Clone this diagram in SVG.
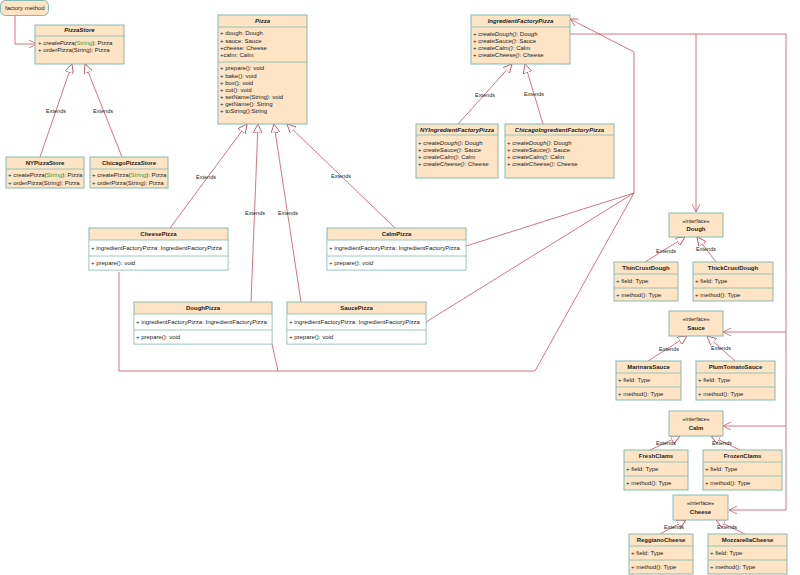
<svg xmlns="http://www.w3.org/2000/svg" width="800" height="575" viewBox="0 0 800 575">
<style>
text{font-family:"Liberation Sans",Arial,sans-serif;font-size:6px;fill:#222}
.b{fill:#fce4c4;stroke:#86b9b3;stroke-width:1}
.d{stroke:#86b9b3;stroke-width:0.8}
.t{font-weight:bold;text-anchor:middle}
.i{font-style:italic}
.c{fill:none;stroke:#c55462;stroke-width:0.8}
.g{fill:#3a9a3a}
.l{font-size:5.5px;text-anchor:middle}
</style>
<defs>
<marker id="tri" viewBox="0 0 10 10" refX="10" refY="5" markerWidth="9" markerHeight="9" orient="auto-start-reverse" markerUnits="userSpaceOnUse"><path d="M0,0 L10,5 L0,10 Z" fill="#fff" stroke="#c55462" stroke-width="1"/></marker>
<marker id="open" viewBox="0 0 10 10" refX="10" refY="5" markerWidth="8" markerHeight="8" orient="auto" markerUnits="userSpaceOnUse"><path d="M0,0 L10,5 L0,10" fill="none" stroke="#c55462" stroke-width="1"/></marker>
</defs>
<g id="connectors">
<path class="c" d="M15,15 V44 H37" marker-end="url(#open)"/>
<line class="c" x1="40" y1="157" x2="72" y2="64" marker-end="url(#tri)"/>
<line class="c" x1="122" y1="157" x2="85" y2="64" marker-end="url(#tri)"/>
<line class="c" x1="170" y1="228" x2="247" y2="124" marker-end="url(#tri)"/>
<line class="c" x1="251" y1="302" x2="258" y2="124" marker-end="url(#tri)"/>
<line class="c" x1="301" y1="302" x2="274" y2="124" marker-end="url(#tri)"/>
<line class="c" x1="395" y1="228" x2="287" y2="124" marker-end="url(#tri)"/>
<line class="c" x1="458" y1="124" x2="512" y2="64" marker-end="url(#tri)"/>
<line class="c" x1="543" y1="124" x2="525" y2="64" marker-end="url(#tri)"/>
<path class="c" d="M119,272 V371 H535 L634,193"/>
<line class="c" x1="272" y1="344" x2="278" y2="371"/>
<line class="c" x1="466" y1="246" x2="634" y2="193"/>
<line class="c" x1="426" y1="322" x2="634" y2="193"/>
<path class="c" d="M634,193 V52 L570,19" marker-end="url(#open)"/>
<path class="c" d="M570,34 H786 V510"/>
<path class="c" d="M696,34 V212" marker-end="url(#open)"/>
<path class="c" d="M786,332 H723" marker-end="url(#open)"/>
<path class="c" d="M786,426 H723" marker-end="url(#open)"/>
<path class="c" d="M786,510 H729" marker-end="url(#open)"/>
<line class="c" x1="645" y1="262" x2="685" y2="237" marker-end="url(#tri)"/>
<line class="c" x1="716" y1="262" x2="697" y2="237" marker-end="url(#tri)"/>
<line class="c" x1="648" y1="361" x2="687" y2="336" marker-end="url(#tri)"/>
<line class="c" x1="735" y1="361" x2="707" y2="336" marker-end="url(#tri)"/>
<line class="c" x1="650" y1="450" x2="680" y2="436" marker-end="url(#tri)"/>
<line class="c" x1="740" y1="450" x2="711" y2="436" marker-end="url(#tri)"/>
<line class="c" x1="660" y1="534" x2="686" y2="520" marker-end="url(#tri)"/>
<line class="c" x1="745" y1="534" x2="716" y2="520" marker-end="url(#tri)"/>
<text class="l" x="56" y="113">Extends</text><text class="l" x="103" y="113">Extends</text>
<text class="l" x="206" y="179">Extends</text><text class="l" x="255" y="215">Extends</text>
<text class="l" x="288" y="215">Extends</text><text class="l" x="341" y="178">Extends</text>
<text class="l" x="485" y="97">Extends</text><text class="l" x="534" y="96">Extends</text>
<text class="l" x="666" y="253">Extends</text><text class="l" x="706" y="251">Extends</text>
<text class="l" x="669" y="351">Extends</text><text class="l" x="721" y="350">Extends</text>
<text class="l" x="666" y="445">Extends</text><text class="l" x="722" y="445">Extends</text>
<text class="l" x="674" y="529">Extends</text><text class="l" x="727" y="529">Extends</text>
</g>
<g id="factoryMethod"><rect x="0.5" y="0.5" width="48" height="15" rx="5" class="b"/><text x="5" y="10">factory method</text></g>
<g id="PizzaStore"><rect class="b" x="35" y="25" width="89" height="39"/><line class="d" x1="35" y1="36" x2="124" y2="36"/>
<text class="t i" x="79.5" y="32">PizzaStore</text>
<text x="38" y="45">+ <tspan class="i">createPizza(</tspan><tspan class="g">String</tspan>): Pizza</text><text x="38" y="52">+ orderPizza(String): Pizza</text></g>
<g id="NYPizzaStore"><rect class="b" x="6" y="157" width="78" height="31"/><line class="d" x1="6" y1="169" x2="84" y2="169"/>
<text class="t" x="45" y="165">NYPizzaStore</text>
<text x="8" y="177">+ createPizza(<tspan class="g">String</tspan>): Pizza</text><text x="8" y="185">+ orderPizza(String): Pizza</text></g>
<g id="ChicagoPizzaStore"><rect class="b" x="90" y="157" width="78" height="31"/><line class="d" x1="90" y1="169" x2="168" y2="169"/>
<text class="t" x="129" y="165">ChicagoPizzaStore</text>
<text x="92" y="177">+ createPizza(<tspan class="g">String</tspan>): Pizza</text><text x="92" y="185">+ orderPizza(String): Pizza</text></g>
<g id="Pizza"><rect class="b" x="218" y="15" width="89" height="109"/><line class="d" x1="218" y1="27" x2="307" y2="27"/><line class="d" x1="218" y1="62" x2="307" y2="62"/>
<text class="t i" x="262.5" y="23">Pizza</text>
<text x="220" y="35">+ dough: Dough</text><text x="220" y="43">+ sauce: Sauce</text><text x="220" y="50">+cheese: Cheese</text><text x="220" y="57">+calm: Calm</text>
<text x="220" y="70">+ prepare(): void</text><text x="220" y="78">+ bake(): void</text><text x="220" y="85">+ box(): void</text><text x="220" y="92">+ cut(): void</text><text x="220" y="99">+ setName(String): void</text><text x="220" y="106">+ getName(): String</text><text x="220" y="113">+ toString():String</text></g>
<g id="IngredientFactoryPizza"><rect class="b" x="471" y="15" width="99" height="49"/><line class="d" x1="471" y1="27" x2="570" y2="27"/>
<text class="t i" x="520.5" y="23">IngredientFactoryPizza</text>
<text x="473" y="36">+ <tspan class="i">createDough()</tspan>: Dough</text><text x="473" y="43">+ <tspan class="i">createSauce()</tspan>: Sauce</text><text x="473" y="50">+ <tspan class="i">createCalm()</tspan>: Calm</text><text x="473" y="57">+ <tspan class="i">createCheese()</tspan>: Cheese</text></g>
<g id="NYIngredientFactoryPizza"><rect class="b" x="416" y="124" width="82" height="54"/><line class="d" x1="416" y1="135" x2="498" y2="135"/>
<text class="t i" x="457" y="132">NYIngredientFactoryPizza</text>
<text x="418" y="145">+ <tspan class="i">createDough()</tspan>: Dough</text><text x="418" y="152">+ <tspan class="i">createSauce()</tspan>: Sauce</text><text x="418" y="159">+ <tspan class="i">createCalm()</tspan>: Calm</text><text x="418" y="166">+ <tspan class="i">createCheese()</tspan>: Cheese</text></g>
<g id="ChicagoIngredientFactoryPizza"><rect class="b" x="505" y="124" width="109" height="54"/><line class="d" x1="505" y1="135" x2="614" y2="135"/>
<text class="t i" x="559.5" y="132">ChicagoIngredientFactoryPizza</text>
<text x="507" y="145">+ <tspan class="i">createDough()</tspan>: Dough</text><text x="507" y="152">+ <tspan class="i">createSauce()</tspan>: Sauce</text><text x="507" y="159">+ <tspan class="i">createCalm()</tspan>: Calm</text><text x="507" y="166">+ <tspan class="i">createCheese()</tspan>: Cheese</text></g>
<g id="CheesePizza"><rect class="b" x="89" y="228" width="139" height="42"/><rect x="89.5" y="240" width="138" height="29.5" fill="#fff" stroke="none"/><line class="d" x1="89" y1="240" x2="228" y2="240"/><line class="d" x1="89" y1="256" x2="228" y2="256"/>
<text class="t" x="158.5" y="236">CheesePizza</text><text x="91" y="250">+ ingredientFactoryPizza: IngredientFactoryPizza</text><text x="91" y="265">+ prepare(): void</text></g>
<g id="CalmPizza"><rect class="b" x="327" y="228" width="139" height="42"/><rect x="327.5" y="240" width="138" height="29.5" fill="#fff" stroke="none"/><line class="d" x1="327" y1="240" x2="466" y2="240"/><line class="d" x1="327" y1="256" x2="466" y2="256"/>
<text class="t" x="396.5" y="236">CalmPizza</text><text x="329" y="250">+ ingredientFactoryPizza: IngredientFactoryPizza</text><text x="329" y="265">+ prepare(): <tspan class="i">void</tspan></text></g>
<g id="DoughPizza"><rect class="b" x="134" y="302" width="138" height="42"/><rect x="134.5" y="314" width="137" height="29.5" fill="#fff" stroke="none"/><line class="d" x1="134" y1="314" x2="272" y2="314"/><line class="d" x1="134" y1="330" x2="272" y2="330"/>
<text class="t" x="203" y="310">DoughPizza</text><text x="136" y="324">+ ingredientFactoryPizza: IngredientFactoryPizza</text><text x="136" y="339">+ prepare(): void</text></g>
<g id="SaucePizza"><rect class="b" x="287" y="302" width="139" height="42"/><rect x="287.5" y="314" width="138" height="29.5" fill="#fff" stroke="none"/><line class="d" x1="287" y1="314" x2="426" y2="314"/><line class="d" x1="287" y1="330" x2="426" y2="330"/>
<text class="t" x="356.5" y="310">SaucePizza</text><text x="289" y="324">+ ingredientFactoryPizza: IngredientFactoryPizza</text><text x="289" y="339">+ prepare(): void</text></g>
<g id="Dough"><rect class="b" x="669" y="213" width="54" height="24"/><text class="l" x="696" y="223" font-size="5">«interface»</text><text class="t" x="696" y="231">Dough</text></g>
<g id="Sauce"><rect class="b" x="669" y="311" width="54" height="25"/><text class="l" x="696" y="321" font-size="5">«interface»</text><text class="t" x="696" y="330">Sauce</text></g>
<g id="Calm"><rect class="b" x="669" y="411" width="54" height="25"/><text class="l" x="696" y="421" font-size="5">«interface»</text><text class="t" x="696" y="430">Calm</text></g>
<g id="Cheese"><rect class="b" x="673" y="495" width="55" height="25"/><text class="l" x="700.5" y="505" font-size="5">«interface»</text><text class="t" x="700.5" y="514">Cheese</text></g>
<g id="ThinCrustDough"><rect class="b" x="614" y="262" width="64" height="39"/><line class="d" x1="614" y1="274" x2="678" y2="274"/><line class="d" x1="614" y1="288" x2="678" y2="288"/><text class="t" x="646" y="270">ThinCrustDough</text><text x="616" y="283">+ field: Type</text><text x="616" y="297">+ method(): Type</text></g>
<g id="ThickCrustDough"><rect class="b" x="693" y="262" width="80" height="39"/><line class="d" x1="693" y1="274" x2="773" y2="274"/><line class="d" x1="693" y1="288" x2="773" y2="288"/><text class="t" x="733" y="270">ThickCrustDough</text><text x="695" y="283">+ field: Type</text><text x="695" y="297">+ method(): Type</text></g>
<g id="MarinaraSauce"><rect class="b" x="616" y="361" width="65" height="39"/><line class="d" x1="616" y1="373" x2="681" y2="373"/><line class="d" x1="616" y1="387" x2="681" y2="387"/><text class="t" x="648.5" y="369">MarinaraSauce</text><text x="618" y="382">+ field: Type</text><text x="618" y="396">+ method(): Type</text></g>
<g id="PlumTomatoSauce"><rect class="b" x="696" y="361" width="79" height="39"/><line class="d" x1="696" y1="373" x2="775" y2="373"/><line class="d" x1="696" y1="387" x2="775" y2="387"/><text class="t" x="735.5" y="369">PlumTomatoSauce</text><text x="698" y="382">+ field: Type</text><text x="698" y="396">+ method(): Type</text></g>
<g id="FreshClams"><rect class="b" x="624" y="450" width="64" height="40"/><line class="d" x1="624" y1="462" x2="688" y2="462"/><line class="d" x1="624" y1="476" x2="688" y2="476"/><text class="t" x="656" y="458">FreshClams</text><text x="626" y="471">+ field: Type</text><text x="626" y="485">+ method(): Type</text></g>
<g id="FrozenClams"><rect class="b" x="703" y="450" width="79" height="40"/><line class="d" x1="703" y1="462" x2="782" y2="462"/><line class="d" x1="703" y1="476" x2="782" y2="476"/><text class="t" x="742.5" y="458">FrozenClams</text><text x="705" y="471">+ field: Type</text><text x="705" y="485">+ method(): Type</text></g>
<g id="ReggianoCheese"><rect class="b" x="629" y="534" width="64" height="40"/><line class="d" x1="629" y1="546" x2="693" y2="546"/><line class="d" x1="629" y1="560" x2="693" y2="560"/><text class="t" x="661" y="542">ReggianoCheese</text><text x="631" y="555">+ field: Type</text><text x="631" y="569">+ method(): Type</text></g>
<g id="MozzarellaCheese"><rect class="b" x="708" y="534" width="79" height="40"/><line class="d" x1="708" y1="546" x2="787" y2="546"/><line class="d" x1="708" y1="560" x2="787" y2="560"/><text class="t" x="747.5" y="542">MozzarellaCheese</text><text x="710" y="555">+ field: Type</text><text x="710" y="569">+ method(): Type</text></g>
</svg>
